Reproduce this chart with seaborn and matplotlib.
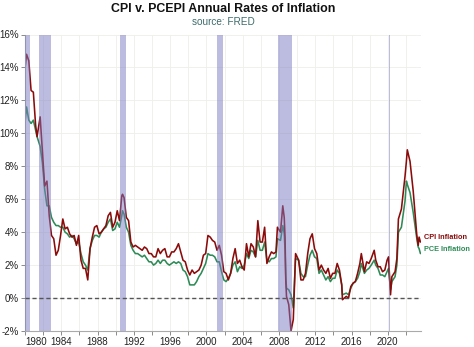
import matplotlib
matplotlib.use("Agg")
import matplotlib.pyplot as plt
import matplotlib.font_manager as fm
import seaborn as sns
import pandas as pd

# ---- data (decimal years, annual % change) ----
years = [1980.00, 1980.17, 1980.42, 1980.67, 1980.92,
         1981.17, 1981.33, 1981.67, 1981.92,
         1982.17, 1982.42, 1982.67, 1982.92,
         1983.17, 1983.42, 1983.67, 1983.92,
         1984.17, 1984.42, 1984.67, 1984.92,
         1985.17, 1985.42, 1985.67, 1985.92,
         1986.17, 1986.42, 1986.67, 1986.92,
         1987.17, 1987.42, 1987.67, 1987.92,
         1988.17, 1988.42, 1988.67, 1988.92,
         1989.17, 1989.42, 1989.67, 1989.92,
         1990.17, 1990.42, 1990.67, 1990.75, 1990.92,
         1991.17, 1991.42, 1991.67, 1991.92,
         1992.17, 1992.42, 1992.67, 1992.92,
         1993.17, 1993.42, 1993.67, 1993.92,
         1994.17, 1994.42, 1994.67, 1994.92,
         1995.17, 1995.42, 1995.67, 1995.92,
         1996.17, 1996.42, 1996.67, 1996.92,
         1997.17, 1997.42, 1997.67, 1997.92,
         1998.17, 1998.42, 1998.67, 1998.92,
         1999.17, 1999.42, 1999.67, 1999.92,
         2000.17, 2000.42, 2000.67, 2000.92,
         2001.17, 2001.42, 2001.67, 2001.92,
         2002.17, 2002.42, 2002.67, 2002.92,
         2003.17, 2003.42, 2003.67, 2003.92,
         2004.17, 2004.42, 2004.67, 2004.92,
         2005.17, 2005.42, 2005.67, 2005.92,
         2006.17, 2006.42, 2006.67, 2006.92,
         2007.17, 2007.42, 2007.67, 2007.83,
         2008.17, 2008.42, 2008.58, 2008.67, 2008.75, 2008.83,
         2009.08, 2009.33, 2009.58, 2009.83,
         2010.17, 2010.42, 2010.67, 2010.92,
         2011.17, 2011.42, 2011.67, 2011.92,
         2012.17, 2012.42, 2012.67, 2012.92,
         2013.17, 2013.42, 2013.67, 2013.92,
         2014.17, 2014.42, 2014.67, 2014.92,
         2015.00, 2015.42, 2015.67, 2015.92,
         2016.17, 2016.42, 2016.67, 2016.92,
         2017.08, 2017.42, 2017.67, 2017.92,
         2018.17, 2018.50, 2018.67, 2018.92,
         2019.17, 2019.42, 2019.67, 2019.92,
         2020.08, 2020.30, 2020.45, 2020.80,
         2021.00, 2021.17, 2021.50, 2021.90,
         2022.05, 2022.15, 2022.45, 2022.80,
         2023.20, 2023.35, 2023.45, 2023.60]

cpi = [13.9, 14.8, 14.4, 12.6, 12.5,
       10.5, 9.8, 11.0, 8.9,
       6.8, 7.1, 5.0, 3.8,
       3.6, 2.6, 2.9, 3.8,
       4.8, 4.2, 4.3, 3.9,
       3.7, 3.8, 3.2, 3.8,
       2.3, 1.8, 1.8, 1.1,
       3.0, 3.7, 4.3, 4.4,
       3.9, 4.0, 4.2, 4.4,
       5.0, 5.2, 4.3, 4.6,
       5.3, 4.7, 6.2, 6.3, 6.1,
       4.9, 4.7, 3.4, 3.1,
       3.2, 3.1, 3.0, 2.9,
       3.1, 3.0, 2.7, 2.7,
       2.5, 2.5, 3.0, 2.7,
       2.9, 3.0, 2.5, 2.5,
       2.8, 2.8, 3.0, 3.3,
       2.8, 2.3, 2.2, 1.7,
       1.4, 1.7, 1.5, 1.6,
       1.7, 2.0, 2.6, 2.7,
       3.8, 3.7, 3.5, 3.4,
       2.9, 3.2, 2.6, 1.6,
       1.5, 1.1, 1.5, 2.4,
       3.0, 2.1, 2.3, 1.9,
       1.7, 3.3, 2.5, 3.3,
       3.1, 2.5, 4.7, 3.4,
       3.4, 4.3, 2.1, 2.5,
       2.8, 2.7, 2.8, 4.3,
       4.0, 5.6, 4.9, 3.7, 1.1, 0.1,
       -0.4, -2.0, -1.3, 2.7,
       2.3, 1.1, 1.1, 1.5,
       2.7, 3.6, 3.9, 3.0,
       2.7, 1.7, 2.0, 1.7,
       1.5, 1.8, 1.2, 1.5,
       1.5, 2.1, 1.7, 0.8,
       -0.1, 0.1, 0.0, 0.7,
       0.9, 1.0, 1.5, 2.1,
       2.7, 1.6, 2.2, 2.1,
       2.4, 2.9, 2.3, 1.9,
       1.9, 1.6, 1.7, 2.3,
       2.5, 0.2, 1.3, 1.6,
       2.4, 4.8, 5.4, 7.4,
       8.3, 9.0, 8.3, 6.5,
       3.8, 3.2, 3.7, 3.4]

pce = [10.6, 11.6, 10.8, 10.6, 10.8,
       10.2, 9.8, 9.2, 8.2,
       6.6, 5.6, 5.6, 4.9,
       4.6, 4.4, 4.4, 4.3,
       4.3, 4.0, 3.9, 3.7,
       3.8, 3.6, 3.3, 3.4,
       2.7, 2.2, 2.0, 1.7,
       3.0, 3.5, 3.8, 3.8,
       3.7, 4.0, 4.2, 4.3,
       4.6, 4.8, 4.1, 4.2,
       4.6, 4.3, 5.0, 5.3, 5.1,
       4.3, 4.0, 3.2, 2.9,
       2.7, 2.7, 2.6, 2.5,
       2.6, 2.4, 2.2, 2.2,
       2.0, 2.1, 2.3, 2.1,
       2.3, 2.3, 2.1, 2.0,
       2.1, 2.2, 2.1, 2.2,
       2.1, 1.7, 1.6, 1.3,
       0.8, 0.8, 0.8, 1.0,
       1.3, 1.5, 1.8, 2.1,
       2.7, 2.6, 2.6, 2.5,
       2.2, 2.2, 1.6, 1.1,
       1.0, 1.2, 1.5, 2.0,
       2.2, 1.6, 1.9, 1.8,
       2.0, 2.7, 2.4, 2.9,
       2.8, 2.5, 3.5, 2.9,
       2.9, 3.4, 2.3, 2.2,
       2.4, 2.4, 2.5, 3.6,
       3.5, 4.4, 3.9, 2.9, 1.3, 0.6,
       0.5, 0.2, -0.6, 2.4,
       2.3, 1.5, 1.3, 1.3,
       2.0, 2.6, 2.9, 2.5,
       2.4, 1.5, 1.7, 1.4,
       1.1, 1.3, 1.0, 1.2,
       1.2, 1.7, 1.5, 0.8,
       0.2, 0.3, 0.2, 0.6,
       0.9, 1.0, 1.2, 1.6,
       2.1, 1.5, 1.7, 1.8,
       2.0, 2.3, 2.0, 1.8,
       1.4, 1.4, 1.3, 1.6,
       1.8, 0.5, 1.0, 1.3,
       2.0, 4.0, 4.3, 5.9,
       7.1, 6.9, 6.4, 5.2,
       3.6, 3.1, 3.0, 2.7]

recession_start = [1980.00, 1981.50, 1990.50, 2001.17, 2007.92, 2020.08]
recession_end = [1980.50, 1982.92, 1991.17, 2001.83, 2009.42, 2020.25]

series_names = ["CPI Inflation", "PCE Inflation"]
series_colors = ["#8b0a0a", "#2e8b57"]
y_ticks = [-2, 0, 2, 4, 6, 8, 10, 12, 14, 16]
x_label_years = [1980, 1984, 1988, 1992, 1996, 2000, 2004, 2008, 2012, 2016, 2020]

# ---- build long-form frame ----
df = pd.concat([
    pd.DataFrame({"year": years, "value": cpi, "series": series_names[0]}),
    pd.DataFrame({"year": years, "value": pce, "series": series_names[1]}),
])

sns.set_theme(style="white")
fm.fontManager.ttflist = [f for f in fm.fontManager.ttflist if "Narrow" not in f.fname]
try:
    fm.fontManager._findfont_cached.cache_clear()
except Exception:
    pass
plt.rcParams["font.family"] = ["Liberation Sans", "DejaVu Sans"]

fig = plt.figure(figsize=(4.74, 3.47), dpi=100)
ax = fig.add_axes([25 / 474, 16 / 347, 396 / 474, 296.5 / 347])

# PCE drawn first, CPI on top
sns.lineplot(data=df[df.series == series_names[1]], x="year", y="value",
             color=series_colors[1], lw=1.15, ax=ax, legend=False, zorder=2)
sns.lineplot(data=df[df.series == series_names[0]], x="year", y="value",
             color=series_colors[0], lw=1.15, ax=ax, legend=False, zorder=2.1)

for s, e in zip(recession_start, recession_end):
    ax.axvspan(s, e, color="#7b7bc4", alpha=0.5, lw=0, zorder=3)

ax.axhline(0, color="#555555", lw=1.0, ls=(0, (3, 2)), zorder=4)

ax.set_xlim(1980, 2023.66)
ax.set_ylim(-2, 16)
ax.set_yticks(y_ticks)
ax.set_yticklabels([f"{v}%" for v in y_ticks])
ax.set_xticks(list(range(1980, 2024, 2)))
ax.set_xticklabels([str(y) if y in x_label_years else "" for y in range(1980, 2024, 2)])
lbls = ax.get_xticklabels()
lbls[0].set_horizontalalignment("left")

ax.tick_params(axis="both", labelsize=7, length=3, width=0.6,
               direction="out", pad=1.5, bottom=True, left=True)
ax.tick_params(axis="x", colors="#777777", labelcolor="#222222")
ax.tick_params(axis="y", colors="#777777", labelcolor="#222222")
ax.grid(True, color="#eeeeea", lw=0.6)
ax.set_axisbelow(True)
for side in ["top", "right"]:
    ax.spines[side].set_visible(False)
for side in ["left", "bottom"]:
    ax.spines[side].set_color("#aaaaaa")
    ax.spines[side].set_linewidth(0.8)
ax.set_xlabel("")
ax.set_ylabel("")

# end labels
ax.text(2023.95, 3.67, series_names[0], color=series_colors[0], fontsize=5.3,
        fontweight="bold", va="center", ha="left", clip_on=False)
ax.text(2023.95, 2.95, series_names[1], color=series_colors[1], fontsize=5.3,
        fontweight="bold", va="center", ha="left", clip_on=False)

fig.text(223 / 474, 1 - 9.5 / 347, "CPI v. PCEPI Annual Rates of Inflation",
         ha="center", va="center", fontsize=8.9, fontweight="bold", color="#111111")
fig.text(223 / 474, 1 - 22 / 347, "source: FRED", ha="center", va="center",
         fontsize=7.2, color="#3d6b6b")

fig.savefig("out.png", dpi=100)
